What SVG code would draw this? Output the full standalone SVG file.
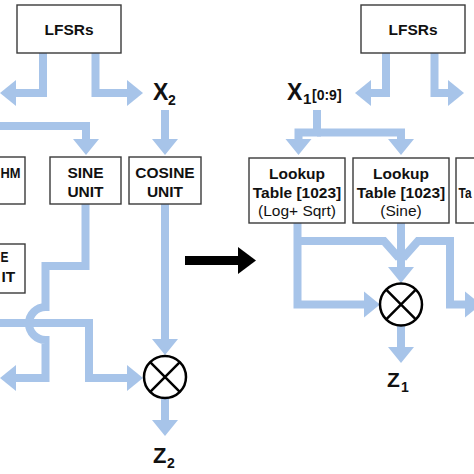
<svg xmlns="http://www.w3.org/2000/svg" width="474" height="474" viewBox="0 0 474 474">
<style>
.box{fill:#fff;stroke:#3a3a3a;stroke-width:1.4}
.b{font-family:"Liberation Sans",Arial,sans-serif;font-weight:bold;font-size:15.5px;fill:#111}
.r{font-family:"Liberation Sans",Arial,sans-serif;font-size:15.5px;fill:#111}
.c{text-anchor:middle}
.big{font-size:23px}
.sub{font-size:14px}
.w{fill:none;stroke:#a7c4e9;stroke-width:8;stroke-linejoin:miter}
.mul{fill:#fff;stroke:#000;stroke-width:2.5}
</style>
<defs>
<marker id="ah" markerUnits="userSpaceOnUse" markerWidth="17" markerHeight="26" viewBox="0 0 17 26" refX="1" refY="13" orient="auto" overflow="visible">
<path d="M0,0 L16,13 L0,26z" fill="#a7c4e9"/>
</marker>
</defs>
<rect width="474" height="474" fill="#fff"/>
<g id="connectors">
<path class="w" d="M43,53 V93 H15" marker-end="url(#ah)"/>
<path class="w" d="M95.5,53 V93 H128" marker-end="url(#ah)"/>
<path class="w" d="M165,110 V140" marker-end="url(#ah)"/>
<path class="w" d="M0,126 H86 V140" marker-end="url(#ah)"/>
<path class="w" d="M85.5,204 V266 H45.5 V307 A16.5,16.5 0 0 0 45.5,340 V378 H15" marker-end="url(#ah)"/>
<path class="w" d="M0,323 H89 V378 H128" marker-end="url(#ah)"/>
<path class="w" d="M165,204 V340" marker-end="url(#ah)"/>
<path class="w" d="M165,398 V421" marker-end="url(#ah)"/>
<path class="w" d="M386,53 V93 H370" marker-end="url(#ah)"/>
<path class="w" d="M434.5,53 V93 H449" marker-end="url(#ah)"/>
<path class="w" d="M317,110 V132.5 H298.5 V140" marker-end="url(#ah)"/>
<path class="w" d="M317,132.5 H401 V140" marker-end="url(#ah)"/>
<path class="w" d="M297.5,223 V304.5 H365" marker-end="url(#ah)"/>
<path class="w" d="M297.5,241 H384 L399,258"/>
<path class="w" d="M401,223 V268" marker-end="url(#ah)"/>
<path class="w" d="M403,258 L418,241 H450 V304.5 H466" marker-end="url(#ah)"/>
<path class="w" d="M401,325 V348" marker-end="url(#ah)"/>
<path d="M185,260.5 H240" stroke="#000" stroke-width="9" fill="none"/>
<path d="M238,247 L256,260.5 L238,274z" fill="#000"/>
</g>
<g id="lfsr-left"><rect class="box" x="17" y="5" width="104" height="48"/><text class="b c" x="69" y="35">LFSRs</text></g>
<g id="x2"><text class="b big" x="153" y="100">X</text><text class="b sub" x="168" y="105">2</text></g>
<g id="hm-unit"><rect class="box" x="-10" y="157" width="35" height="47"/><text class="b" x="0.5" y="177.5" textLength="20" lengthAdjust="spacingAndGlyphs">HM</text></g>
<g id="sine-unit"><rect class="box" x="50" y="157" width="71" height="47"/><text class="b c" x="85.5" y="177.5">SINE</text><text class="b c" x="85.5" y="196.5">UNIT</text></g>
<g id="cosine-unit"><rect class="box" x="129" y="157" width="72" height="47"/><text class="b c" x="165" y="177.5">COSINE</text><text class="b c" x="165" y="196.5">UNIT</text></g>
<g id="left-unit2"><rect class="box" x="-10" y="244" width="35" height="49"/><text class="b" x="0.5" y="262" textLength="8" lengthAdjust="spacingAndGlyphs">E</text><text class="b" x="1.5" y="282">IT</text></g>
<g id="mul-left"><circle class="mul" cx="165" cy="377" r="21"/><path d="M150.2,362.2 L179.8,391.8 M179.8,362.2 L150.2,391.8" stroke="#000" stroke-width="2.5"/></g>
<g id="z2"><text class="b" x="153" y="463" style="font-size:22px">Z</text><text class="b sub" x="167" y="468">2</text></g>
<g id="lfsr-right"><rect class="box" x="361" y="5" width="104" height="48"/><text class="b c" x="413" y="35">LFSRs</text></g>
<g id="x1"><text class="b big" x="287" y="100">X</text><text class="b" x="303" y="104" style="font-size:15px">1</text><text class="b sub" x="312" y="100">[0:9]</text></g>
<g id="lookup-log"><rect class="box" x="249" y="158" width="96" height="65"/><text class="b c" x="297" y="179">Lookup</text><text class="b c" x="297" y="198">Table [1023]</text><text class="r c" x="297" y="216">(Log+ Sqrt)</text></g>
<g id="lookup-sine"><rect class="box" x="353" y="158" width="96" height="65"/><text class="b c" x="401" y="179">Lookup</text><text class="b c" x="401" y="198">Table [1023]</text><text class="r c" x="401" y="216">(Sine)</text></g>
<g id="lookup-3"><rect class="box" x="456" y="158" width="30" height="65"/><text class="b" x="458.5" y="198" textLength="13" lengthAdjust="spacingAndGlyphs">Ta</text></g>
<g id="mul-right"><circle class="mul" cx="401" cy="304.5" r="21"/><path d="M386.2,289.7 L415.8,319.3 M415.8,289.7 L386.2,319.3" stroke="#000" stroke-width="2.5"/></g>
<g id="z1"><text class="b" x="387" y="387" style="font-size:21px">Z</text><text class="b sub" x="401" y="392">1</text></g>
</svg>
